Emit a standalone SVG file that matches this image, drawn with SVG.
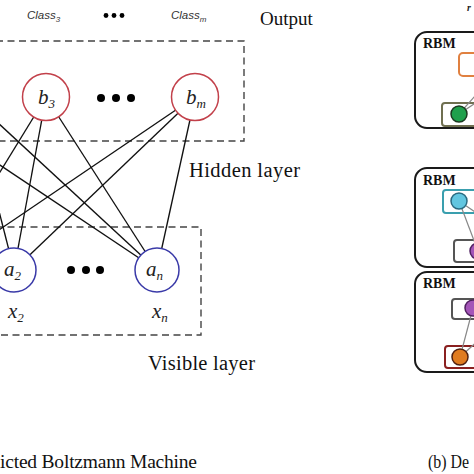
<svg xmlns="http://www.w3.org/2000/svg" width="474" height="474" viewBox="0 0 474 474">
<style>
.serif{font-family:"Liberation Serif","DejaVu Serif",serif;fill:#111}
.cls{font-family:"Liberation Sans",Arial,sans-serif;font-style:italic;font-size:11.5px;fill:#333}
.csub{font-size:8px}
.lbl{font-family:"Liberation Serif","DejaVu Serif",serif;font-style:italic;font-size:21px;fill:#222}
.sub{font-size:13px}
.conn{stroke:#111;stroke-width:1.35;fill:none}
.dash{stroke:#444;stroke-width:1.4;fill:none;stroke-dasharray:7 4.5}
.hid{fill:#fff;stroke:#c2404a;stroke-width:1.5}
.vis{fill:#fff;stroke:#3a3aa8;stroke-width:1.5}
.dot{fill:#000}
.rbm{fill:#fff;stroke:#1a1a1a;stroke-width:2}
.rbmt{font-family:"Liberation Serif","DejaVu Serif",serif;font-weight:bold;font-size:14px;fill:#111}
.gl{stroke:#888;stroke-width:1.2;fill:none}
.inner{fill:#fff;stroke-width:2}
.unit{stroke-width:1.5}
</style>

<g id="labels-top">
  <text class="cls" x="27" y="19">Class<tspan class="csub" dy="3">3</tspan></text>
  <circle class="dot" cx="106" cy="15.5" r="2.4"/>
  <circle class="dot" cx="114" cy="15.5" r="2.4"/>
  <circle class="dot" cx="122" cy="15.5" r="2.4"/>
  <text class="cls" x="171" y="19">Class<tspan class="csub" dy="3">m</tspan></text>
  <text class="serif" x="260" y="25" font-size="19">Output</text>
</g>

<g id="layer-boxes">
  <path class="dash" d="M -4 41 H 244 V 141 H -4"/>
  <path class="dash" d="M -4 227 H 201 V 335 H -4"/>
</g>

<g id="connectors">
  <line class="conn" x1="-102" y1="97" x2="157" y2="270"/>
  <line class="conn" x1="-30" y1="97" x2="157" y2="270"/>
  <line class="conn" x1="-30" y1="97" x2="14" y2="270"/>
  <line class="conn" x1="46" y1="97" x2="-60" y2="270"/>
  <line class="conn" x1="46" y1="97" x2="14" y2="270"/>
  <line class="conn" x1="46" y1="97" x2="157" y2="270"/>
  <line class="conn" x1="195" y1="97" x2="-60" y2="270"/>
  <line class="conn" x1="195" y1="97" x2="14" y2="270"/>
  <line class="conn" x1="195" y1="97" x2="157" y2="270"/>
</g>

<g id="node-b3">
  <circle class="hid" cx="46" cy="97" r="23.5"/>
  <text class="lbl" x="38" y="104">b<tspan class="sub" dy="4">3</tspan></text>
</g>
<g id="hidden-ellipsis">
  <circle class="dot" cx="101" cy="98" r="4"/>
  <circle class="dot" cx="116" cy="98" r="4"/>
  <circle class="dot" cx="131" cy="98" r="4"/>
</g>
<g id="node-bm">
  <circle class="hid" cx="195" cy="97" r="23.5"/>
  <text class="lbl" x="186" y="104">b<tspan class="sub" dy="4">m</tspan></text>
</g>

<g id="node-a2">
  <circle class="vis" cx="14" cy="270" r="22"/>
  <text class="lbl" x="4" y="276">a<tspan class="sub" dy="4">2</tspan></text>
  <text class="lbl" x="8" y="318">x<tspan class="sub" dy="4">2</tspan></text>
</g>
<g id="visible-ellipsis">
  <circle class="dot" cx="71" cy="270" r="4"/>
  <circle class="dot" cx="86" cy="270" r="4"/>
  <circle class="dot" cx="100" cy="270" r="4"/>
</g>
<g id="node-an">
  <circle class="vis" cx="157" cy="270" r="22"/>
  <text class="lbl" x="146" y="276">a<tspan class="sub" dy="4">n</tspan></text>
  <text class="lbl" x="152" y="318">x<tspan class="sub" dy="4">n</tspan></text>
</g>

<g id="layer-labels">
  <text class="serif" x="189" y="177" font-size="20.5" textLength="111">Hidden layer</text>
  <text class="serif" x="148" y="370" font-size="20.5" textLength="107">Visible layer</text>
  <text class="serif" x="0" y="468" font-size="19.5" textLength="197">icted Boltzmann Machine</text>
  <text class="serif" x="428" y="468" font-size="19" textLength="41" lengthAdjust="spacingAndGlyphs">(b) De</text>
  <text x="467" y="11" font-family="Liberation Serif,serif" font-weight="bold" font-style="italic" font-size="10" fill="#222">r</text>
</g>

<g id="rbm-1">
  <rect class="rbm" x="415" y="32" width="90" height="96" rx="12"/>
  <text class="rbmt" x="423" y="48">RBM</text>
  <rect class="inner" x="459" y="53" width="40" height="23" rx="4" stroke="#e08040"/>
  <rect class="inner" x="442" y="103" width="50" height="23" rx="3" stroke="#6f6f50"/>
  <line class="gl" x1="459" y1="114" x2="482" y2="88"/>
  <line class="gl" x1="459" y1="114" x2="486" y2="96"/>
  <circle class="unit" cx="459" cy="114" r="8" fill="#1fa04c" stroke="#1b3a20"/>
</g>

<g id="rbm-2">
  <rect class="rbm" x="415" y="168" width="90" height="99" rx="12"/>
  <text class="rbmt" x="423" y="185">RBM</text>
  <rect class="inner" x="443" y="190" width="50" height="23" rx="3" stroke="#3a9fae"/>
  <rect class="inner" x="454" y="240" width="40" height="22" rx="3" stroke="#555"/>
  <line class="gl" x1="459" y1="201" x2="478" y2="251"/>
  <line class="gl" x1="459" y1="201" x2="490" y2="222"/>
  <circle class="unit" cx="459" cy="201" r="8" fill="#62c6e0" stroke="#2a6a80"/>
  <circle class="unit" cx="478" cy="251" r="8" fill="#a455b8" stroke="#502060"/>
</g>

<g id="rbm-3">
  <rect class="rbm" x="415" y="272" width="90" height="100" rx="12"/>
  <text class="rbmt" x="423" y="288">RBM</text>
  <rect class="inner" x="452" y="299" width="40" height="20" rx="3" stroke="#555"/>
  <rect class="inner" x="445" y="346" width="50" height="22" rx="3" stroke="#8a2020"/>
  <line class="gl" x1="460" y1="357" x2="473" y2="308"/>
  <line class="gl" x1="460" y1="357" x2="490" y2="330"/>
  <circle class="unit" cx="473" cy="308" r="8" fill="#a455b8" stroke="#502060"/>
  <circle class="unit" cx="460" cy="357" r="8" fill="#e07b20" stroke="#502010"/>
</g>
</svg>
